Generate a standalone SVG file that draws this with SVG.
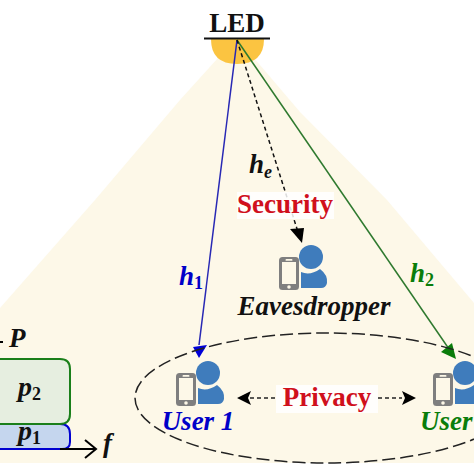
<svg xmlns="http://www.w3.org/2000/svg" width="474" height="474" viewBox="0 0 474 474">
<style>
.s{font-family:"Liberation Serif","Times New Roman",serif}
.b{font-weight:700}
.i{font-style:italic;font-weight:700}
.n{font-style:normal;font-weight:700}
</style>
<defs>
<g id="person">
<rect x="0" y="12" width="20" height="33" rx="3.5" fill="#7f7f7f"/>
<rect x="3" y="17" width="14" height="22" fill="#fdf8e8"/>
<circle cx="10" cy="42" r="1.800" fill="#fdf8e8"/>
<rect x="6.500" y="14" width="7" height="1.800" rx="0.900" fill="#fdf8e8"/>
<circle cx="32" cy="12" r="12" fill="#3f7cbc"/>
<path d="M22 27 Q31 31 41 24 Q49 30 48 38 Q47 43 42 43 L22 43 Z" fill="#3f7cbc"/>
</g>
</defs>
<rect width="474" height="474" fill="#fff"/>
<path d="M218 58 L180 100 L95 200 L0 308 L0 463 L474 463 L474 303 L387 200 L300 112 L254 58 Z" fill="#fdf8e8"/>
<g id="led">
<path d="M211 39 H264 Q264 64 237 64 Q211 64 211 39 Z" fill="#fbc441"/>
<line x1="204" y1="38.500" x2="270" y2="38.500" stroke="#111" stroke-width="2"/>
<text class="s b" x="237" y="32" font-size="27" text-anchor="middle" fill="#111">LED</text>
</g>
<g id="connectors">
<line x1="237" y1="40" x2="199" y2="345" stroke="#2828b4" stroke-width="1.500"/>
<path d="M193 347 L207 345 L199 358 Z" fill="#0000d8"/>
<line x1="237" y1="40" x2="449" y2="349" stroke="#2f7a2f" stroke-width="1.500"/>
<path d="M441 352 L452 343 L456 359 Z" fill="#0a7d0a"/>
<path d="M237 40 L298 232" fill="none" stroke="#111" stroke-width="1.500" stroke-dasharray="4 3"/>
<path d="M290 229 L304 228 L302 243 Z" fill="#000"/>
<ellipse cx="326" cy="398" rx="191" ry="65" fill="none" stroke="#222" stroke-width="1.500" stroke-dasharray="13 5"/>
<line x1="250" y1="398" x2="276" y2="398" stroke="#222" stroke-width="1.500" stroke-dasharray="4 3"/>
<line x1="378" y1="398" x2="402" y2="398" stroke="#222" stroke-width="1.500" stroke-dasharray="4 3"/>
<path d="M237 398 L251 391 L248 398 L251 405 Z" fill="#000"/>
<path d="M416 398 L402 391 L405 398 L402 405 Z" fill="#000"/>
</g>
<g id="label-he"><text class="s i" x="249" y="173" font-size="27" fill="#111">h<tspan font-size="18" dy="5">e</tspan></text></g>
<g id="security">
<rect x="237" y="192" width="97" height="27" fill="#fff" opacity="0.850"/>
<text class="s b" x="285" y="213" font-size="27" text-anchor="middle" fill="#d0101c">Security</text>
</g>
<g id="eavesdropper">
<use href="#person" x="279" y="245"/>
<text class="s i" x="314" y="315" font-size="27" text-anchor="middle" fill="#111">Eavesdropper</text>
</g>
<g id="label-h1"><text class="s i" x="179" y="285" font-size="27" fill="#0000c8">h<tspan class="n" font-size="18" dy="4">1</tspan></text></g>
<g id="label-h2"><text class="s i" x="410" y="282" font-size="27" fill="#0a7d0a">h<tspan class="n" font-size="18" dy="4">2</tspan></text></g>
<g id="user1">
<use href="#person" x="176" y="361"/>
<text class="s i" x="198" y="430" font-size="27" text-anchor="middle" fill="#0000c8">User 1</text>
</g>
<g id="user2">
<use href="#person" x="433" y="361"/>
<text class="s i" x="420" y="430" font-size="27" fill="#0a7d0a">User</text>
</g>
<g id="privacy">
<rect x="276" y="385" width="102" height="28" fill="#fff" opacity="0.850"/>
<text class="s b" x="327" y="406" font-size="27" text-anchor="middle" fill="#d0101c">Privacy</text>
</g>
<g id="chart">
<path d="M-10 424 H60 Q70 424 70 434 V442 Q70 449 62 449 H-10 Z" fill="#c5d6ee" stroke="#0000d0" stroke-width="2"/>
<path d="M-10 359 H60 Q70 359 70 369 V414 Q70 424 60 424 H-10 Z" fill="#e6eee0" stroke="#1a7f1a" stroke-width="2"/>
<path d="M60 449 H95 M85 440 L96 449 L85 458" fill="none" stroke="#000" stroke-width="2"/>
<rect x="0" y="341" width="3" height="2" fill="#000"/>
<text class="s i" x="9" y="347" font-size="27" fill="#111">P</text>
<text class="s i" x="103" y="452" font-size="27" fill="#111">f</text>
<text class="s i" x="18" y="396" font-size="28" fill="#111">p<tspan class="n" font-size="18" dy="4">2</tspan></text>
<text class="s i" x="18" y="440" font-size="28" fill="#111">p<tspan class="n" font-size="18" dy="4">1</tspan></text>
</g>
</svg>
